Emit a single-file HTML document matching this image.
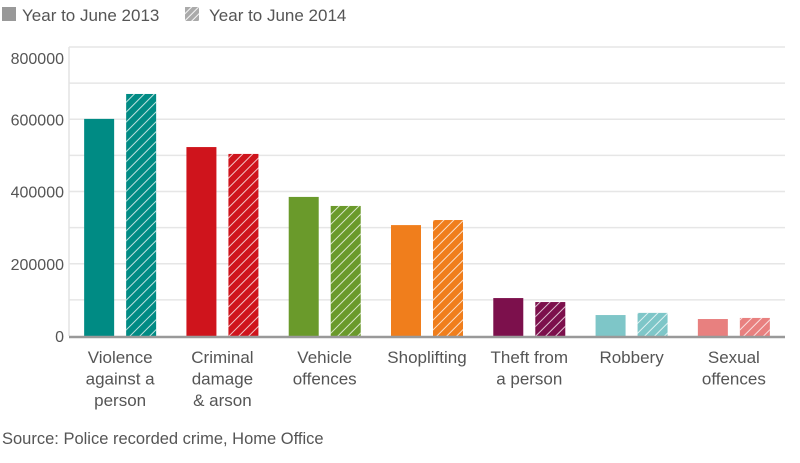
<!DOCTYPE html>
<html><head><meta charset="utf-8"><style>
body{margin:0;background:#fff;font-family:"Liberation Sans",Arial,sans-serif}
svg text{font-family:"Liberation Sans",Arial,sans-serif;fill:#555}
</style></head><body>
<svg width="800" height="458" viewBox="0 0 800 458">
<defs>
<pattern id="hatch" patternUnits="userSpaceOnUse" width="7" height="7" patternTransform="rotate(45)">
<rect width="7" height="7" fill="transparent"/><line x1="0" y1="0" x2="0" y2="7" stroke="#fff" stroke-width="2" stroke-opacity="0.75"/>
</pattern>
<pattern id="hatchGray" patternUnits="userSpaceOnUse" width="5" height="5" patternTransform="rotate(45)">
<rect width="5" height="5" fill="#aaa"/><line x1="0" y1="0" x2="0" y2="5" stroke="#fff" stroke-width="1.8"/>
</pattern>
</defs>
<g>
<rect x="2" y="7" width="14" height="14" fill="#999"/>
<text x="22" y="21" font-size="17">Year to June 2013</text>
<rect x="185" y="7" width="14" height="14" fill="url(#hatchGray)"/>
<text x="209" y="21" font-size="17">Year to June 2014</text>
</g>
<g id="grid"></g>
<g id="bars"></g>
<g id="labels"></g>
<text x="2" y="444" font-size="16.5">Source: Police recorded crime, Home Office</text>
</svg>
<script>
const categories=[["Violence","against a","person"],["Criminal","damage","& arson"],["Vehicle","offences"],["Shoplifting"],["Theft from","a person"],["Robbery"],["Sexual","offences"]];
const values2013=[601000,523000,385000,307000,105000,58000,47000];
const values2014=[670000,504000,360000,321000,94000,64000,50000];
const colors=["#008b84","#cf141c","#6a9a2b","#f07e1c","#7c104c","#7ec6c8","#e8807f"];
const yTicks=[0,200000,400000,600000,800000];
const NS="http://www.w3.org/2000/svg";
const x0=69,x1=785,yBase=336,pxPer=289/800000;
const y=v=>yBase-v*pxPer;
const bw=(x1-x0)/categories.length;
function mk(t,a,p){const e=document.createElementNS(NS,t);for(const k in a)e.setAttribute(k,a[k]);p.appendChild(e);return e;}
const grid=document.getElementById('grid'),bars=document.getElementById('bars'),labels=document.getElementById('labels');
for(let v=100000;v<=800000;v+=100000){const l=mk('line',{x1:x0,x2:x1,y1:y(v),y2:y(v),stroke:'#e6e6e6','stroke-width':1.5},grid);

}
const ax=mk('line',{x1:x0,x2:x0,y1:y(800000),y2:yBase,stroke:'#e3e3e3','stroke-width':1.5},grid);


yTicks.forEach(v=>{const t=mk('text',{x:64,y:Math.max(y(v)+6,64),'text-anchor':'end','font-size':16},labels);t.textContent=v;

});
categories.forEach((c,i)=>{
const cx=x0+bw*(i+0.5);
const b1=mk('rect',{x:cx-36,y:y(values2013[i]),width:30,height:yBase-y(values2013[i]),fill:colors[i]},bars);


const b2=mk('rect',{x:cx+6,y:y(values2014[i]),width:30,height:yBase-y(values2014[i]),fill:colors[i]},bars);


const h=mk('rect',{x:cx+6,y:y(values2014[i]),width:30,height:yBase-y(values2014[i]),fill:'url(#hatch)'},bars);


c.forEach((ln,j)=>{const t=mk('text',{x:cx,y:363+j*21.5,'text-anchor':'middle','font-size':17},labels);t.textContent=ln;

});
});
const base=mk('line',{x1:x0,x2:x1,y1:yBase+1,y2:yBase+1,stroke:'#999','stroke-width':2.5},grid.parentNode);


</script>
</body></html>
